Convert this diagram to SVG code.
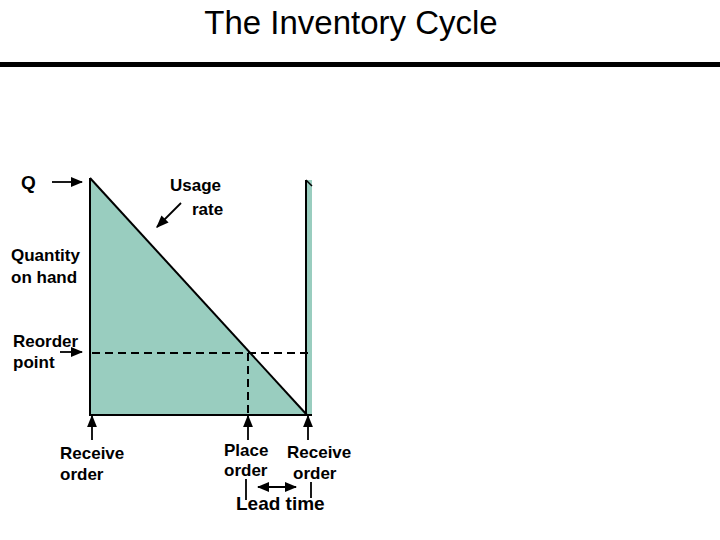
<svg xmlns="http://www.w3.org/2000/svg" width="720" height="540" viewBox="0 0 720 540">
<defs><marker id="ah" viewBox="0 0 10 10" refX="9" refY="5" markerWidth="7" markerHeight="7" orient="auto-start-reverse"><path d="M0,1 L10,5 L0,9 z" fill="#000"/></marker></defs>
<style>text{font-family:"Liberation Sans",Arial,sans-serif;fill:#000}.l text{font-size:17px;font-weight:bold}.a{stroke:#000;stroke-width:1.8;fill:none}.d{stroke:#000;stroke-width:2;stroke-dasharray:8,5;fill:none}</style>
<rect width="720" height="540" fill="#fff"/>
<text x="351" y="34" font-size="33" text-anchor="middle">The Inventory Cycle</text>
<rect x="0" y="62" width="720" height="5" fill="#000"/>
<g id="chart">
<path d="M90,178 L307,415 L90,415 z" fill="#99cdbf"/>
<rect x="306" y="180" width="6" height="235" fill="#99cdbf"/>
<line x1="90" y1="178" x2="307" y2="415" stroke="#000" stroke-width="2"/>
<line x1="90" y1="178" x2="90" y2="415" stroke="#000" stroke-width="2"/>
<line x1="306" y1="180" x2="306" y2="415" stroke="#000" stroke-width="2"/>
<line x1="306" y1="180" x2="312" y2="186" stroke="#000" stroke-width="1.5"/>
<line x1="89" y1="415" x2="312" y2="415" stroke="#000" stroke-width="2"/>
<line class="d" x1="92" y1="353" x2="312" y2="353"/>
<line class="d" x1="248" y1="353" x2="248" y2="415"/>
</g>
<g id="connectors">
<line class="a" x1="52" y1="182" x2="82" y2="182" marker-end="url(#ah)"/>
<line class="a" x1="60" y1="352" x2="82" y2="352" marker-end="url(#ah)"/>
<line class="a" x1="181" y1="203" x2="157" y2="227" marker-end="url(#ah)"/>
<line class="a" x1="92" y1="440" x2="92" y2="416" marker-end="url(#ah)"/>
<line class="a" x1="248" y1="440" x2="248" y2="416" marker-end="url(#ah)"/>
<line class="a" x1="308" y1="440" x2="308" y2="416" marker-end="url(#ah)"/>
<line class="a" x1="258" y1="487" x2="296" y2="487" marker-start="url(#ah)" marker-end="url(#ah)"/>
<line class="a" x1="246" y1="479" x2="246" y2="500"/>
<line class="a" x1="311" y1="482" x2="311" y2="498"/>
</g>
<g id="labels" class="l">
<text x="21" y="189" style="font-size:19px">Q</text>
<text x="170" y="191">Usage</text>
<text x="192" y="215">rate</text>
<text x="11" y="261">Quantity</text>
<text x="11" y="283">on hand</text>
<text x="13" y="347">Reorder</text>
<text x="13" y="368">point</text>
<text x="60" y="459">Receive</text>
<text x="60" y="480">order</text>
<text x="224" y="456">Place</text>
<text x="224" y="476">order</text>
<text x="287" y="458">Receive</text>
<text x="293" y="479">order</text>
<text x="236" y="510" style="font-size:19px">Lead time</text>
</g>
</svg>
